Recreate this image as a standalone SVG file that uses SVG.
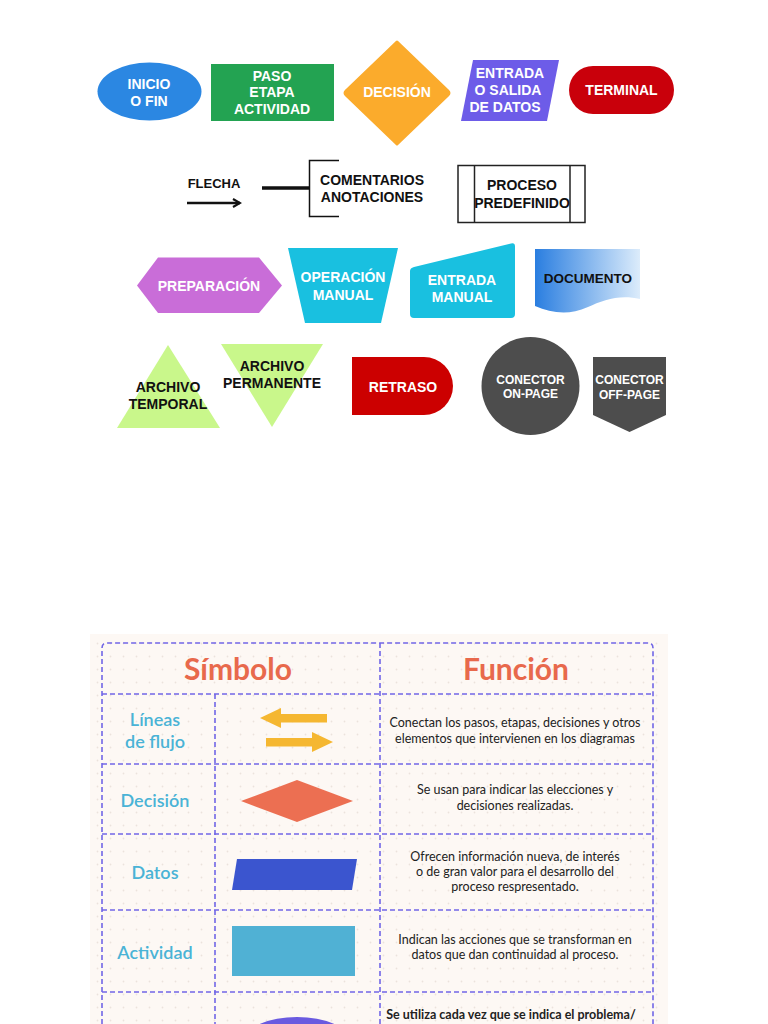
<svg xmlns="http://www.w3.org/2000/svg" width="768" height="1024" viewBox="0 0 768 1024">
<defs>
<style>
.w{font-family:"Liberation Sans",Arial,sans-serif;font-weight:bold;font-size:14px;fill:#fff;text-anchor:middle}
.b{font-family:"Liberation Sans",Arial,sans-serif;font-weight:bold;font-size:14px;fill:#111;text-anchor:middle}
.hd{font-family:Lato,"Open Sans",sans-serif;font-weight:bold;font-size:30px;fill:#e8694c;text-anchor:middle}
.lb{font-family:Lato,"Open Sans",sans-serif;font-weight:600;font-size:18px;fill:#4ab3d6;text-anchor:middle}
.tx{font-family:Lato,"Open Sans",sans-serif;font-size:12.5px;fill:#222;text-anchor:middle}
.dl{stroke:#7166e6;stroke-width:1.6;stroke-dasharray:5 3;fill:none}
</style>
<linearGradient id="docg" x1="0" y1="0" x2="1" y2="0">
<stop offset="0" stop-color="#2a7ee0"/>
<stop offset="1" stop-color="#dcecfb"/>
</linearGradient>
<pattern id="dots" width="13" height="13" patternUnits="userSpaceOnUse">
<circle cx="6.5" cy="6.5" r="0.9" fill="#ebe3dc"/>
</pattern>
<marker id="ah" viewBox="0 0 10 10" refX="8" refY="5" markerWidth="4" markerHeight="4" orient="auto">
<path d="M1,1 L8,5 L1,9" fill="none" stroke="#111" stroke-width="2.2"/>
</marker>
</defs>
<rect width="768" height="1024" fill="#fff"/>

<!-- Row 1 -->
<g id="inicio">
<ellipse cx="149.5" cy="91.5" rx="52" ry="29" fill="#2b87e2"/>
<text class="w" x="149" y="89">INICIO</text>
<text class="w" x="149" y="106">O FIN</text>
</g>
<g id="paso">
<rect x="211" y="64" width="123" height="57" fill="#23a352"/>
<text class="w" x="272" y="81">PASO</text>
<text class="w" x="272" y="97">ETAPA</text>
<text class="w" x="272" y="114">ACTIVIDAD</text>
</g>
<g id="decision">
<path d="M397,42 L448,91 Q450,93 448,95 L397,144 L346,95 Q344,93 346,91 Z" fill="#fbab2c" stroke="#fbab2c" stroke-width="3" stroke-linejoin="round"/>
<text class="w" x="397" y="97">DECISIÓN</text>
</g>
<g id="entrada-salida">
<path d="M473,60 L559,60 L547,121 L461,121 Z" fill="#6d5ce8"/>
<text class="w" x="510" y="78">ENTRADA</text>
<text class="w" x="508" y="95">O SALIDA</text>
<text class="w" x="505" y="112">DE DATOS</text>
</g>
<g id="terminal">
<rect x="569" y="66" width="105" height="48" rx="24" fill="#c9000b"/>
<text class="w" x="621.5" y="95">TERMINAL</text>
</g>

<!-- Row 2 -->
<g id="flecha">
<text class="b" x="214" y="188" style="font-size:13px">FLECHA</text>
</g>
<g id="comentarios">
<text class="b" x="372" y="185">COMENTARIOS</text>
<text class="b" x="372" y="202">ANOTACIONES</text>
</g>
<g id="proceso">
<rect x="458" y="165.5" width="127" height="57" fill="#fff" stroke="#222" stroke-width="1.5"/>
<line x1="474.5" y1="165.5" x2="474.5" y2="222.5" stroke="#222" stroke-width="1.5"/>
<line x1="570" y1="165.5" x2="570" y2="222.5" stroke="#222" stroke-width="1.5"/>
<text class="b" x="522" y="190">PROCESO</text>
<text class="b" x="522" y="208">PREDEFINIDO</text>
</g>

<!-- Row 3 -->
<g id="preparacion">
<path d="M137,285.5 L158,257.5 L259,257.5 L282,285.5 L259,313 L158,313 Z" fill="#c96dd8"/>
<text class="w" x="209" y="291">PREPARACIÓN</text>
</g>
<g id="operacion-manual">
<path d="M288,248 L398,248 L381,323 L305,323 Z" fill="#19c0e0"/>
<text class="w" x="343" y="282">OPERACIÓN</text>
<text class="w" x="343" y="300">MANUAL</text>
</g>
<g id="entrada-manual">
<path d="M414,267 L511,243.5 Q515,242.5 515,246.5 L515,314 Q515,318 511,318 L414,318 Q410,318 410,314 L410,271 Q410,268 414,267 Z" fill="#19c0e0"/>
<text class="w" x="462" y="285">ENTRADA</text>
<text class="w" x="462" y="302">MANUAL</text>
</g>
<g id="documento">
<path d="M535,249 L640,249 L640,299 C620,294 603,300 588,307 C568,316 552,313 535,306 Z" fill="url(#docg)"/>
<text class="b" x="588" y="283" style="font-size:13.5px">DOCUMENTO</text>
</g>

<!-- Row 4 -->
<g id="archivo-temporal">
<path d="M168,345 L220,428 L117,428 Z" fill="#c9f78b"/>
<text class="b" x="168" y="392">ARCHIVO</text>
<text class="b" x="168" y="409">TEMPORAL</text>
</g>
<g id="archivo-permanente">
<path d="M221,344 L323,344 L272,427 Z" fill="#c9f78b"/>
<text class="b" x="272" y="371">ARCHIVO</text>
<text class="b" x="272" y="388">PERMANENTE</text>
</g>
<g id="retraso">
<path d="M352,357 L424,357 A29,29 0 0 1 424,415 L352,415 Z" fill="#cc0000"/>
<text class="w" x="403" y="392">RETRASO</text>
</g>
<g id="conector-on">
<circle cx="530.5" cy="386" r="49" fill="#4d4d4d"/>
<text class="w" x="530.5" y="384" style="font-size:12px">CONECTOR</text>
<text class="w" x="530.5" y="398" style="font-size:12px">ON-PAGE</text>
</g>
<g id="conector-off">
<path d="M593,357 L666,357 L666,415 L629.5,432 L593,415 Z" fill="#4d4d4d"/>
<text class="w" x="629.5" y="384" style="font-size:12px">CONECTOR</text>
<text class="w" x="629.5" y="399" style="font-size:12px">OFF-PAGE</text>
</g>

<g id="connectors">
<line x1="187" y1="203" x2="240" y2="203" stroke="#111" stroke-width="2.5" marker-end="url(#ah)"/>
<line x1="262" y1="188" x2="309" y2="188" stroke="#111" stroke-width="3.5"/>
<path d="M339,160.5 L309.5,160.5 L309.5,216.5 L339,216.5" fill="none" stroke="#111" stroke-width="1.5"/>
</g>

<!-- Table -->
<g id="tabla">
<rect x="90" y="634" width="578" height="400" fill="#fdf8f4"/>
<rect x="90" y="634" width="578" height="400" fill="url(#dots)"/>
<path class="dl" d="M102,1024 L102,648 Q102,643 107,643 L648,643 Q653,643 653,648 L653,1024"/>
<line class="dl" x1="102" y1="694" x2="653" y2="694"/>
<line class="dl" x1="102" y1="764" x2="653" y2="764"/>
<line class="dl" x1="102" y1="834" x2="653" y2="834"/>
<line class="dl" x1="102" y1="910" x2="653" y2="910"/>
<line class="dl" x1="102" y1="992" x2="653" y2="992"/>
<line class="dl" x1="380" y1="643" x2="380" y2="1024"/>
<line class="dl" x1="215" y1="694" x2="215" y2="1024"/>
<text class="hd" x="238" y="680">Símbolo</text>
<text class="hd" x="516" y="680">Función</text>
</g>
<g id="fila-lineas">
<text class="lb" x="155" y="726">Líneas</text>
<text class="lb" x="155" y="748">de flujo</text>
<path d="M260,718 L281,708 L281,714 L327,714 L327,722.5 L281,722.5 L281,728 Z" fill="#f5b731"/>
<path d="M333,742 L312,732 L312,738 L266,738 L266,746.5 L312,746.5 L312,752 Z" fill="#f5b731"/>
<text class="tx" x="515" y="727">Conectan los pasos, etapas, decisiones y otros</text>
<text class="tx" x="515" y="743">elementos que intervienen en los diagramas</text>
</g>
<g id="fila-decision">
<text class="lb" x="155" y="807">Decisión</text>
<path d="M297,780 L353,801 L297,822 L241,801 Z" fill="#ec6f52"/>
<text class="tx" x="515" y="794">Se usan para indicar las elecciones y</text>
<text class="tx" x="515" y="810">decisiones realizadas.</text>
</g>
<g id="fila-datos">
<text class="lb" x="155" y="879">Datos</text>
<path d="M237,859 L357,859 L352,890 L232,890 Z" fill="#3b55cf"/>
<text class="tx" x="515" y="861">Ofrecen información nueva, de interés</text>
<text class="tx" x="515" y="876">o de gran valor para el desarrollo del</text>
<text class="tx" x="515" y="891">proceso respresentado.</text>
</g>
<g id="fila-actividad">
<text class="lb" x="155" y="959">Actividad</text>
<rect x="232" y="926" width="123" height="50" fill="#50b1d4"/>
<text class="tx" x="515" y="944">Indican las acciones que se transforman en</text>
<text class="tx" x="515" y="959">datos que dan continuidad al proceso.</text>
</g>
<g id="fila-inicio">
<ellipse cx="297" cy="1040" rx="52" ry="23" fill="#6a5ae0"/>
<text class="tx" x="511" y="1019" style="font-weight:bold">Se utiliza cada vez que se indica el problema/</text>
</g>
</svg>
